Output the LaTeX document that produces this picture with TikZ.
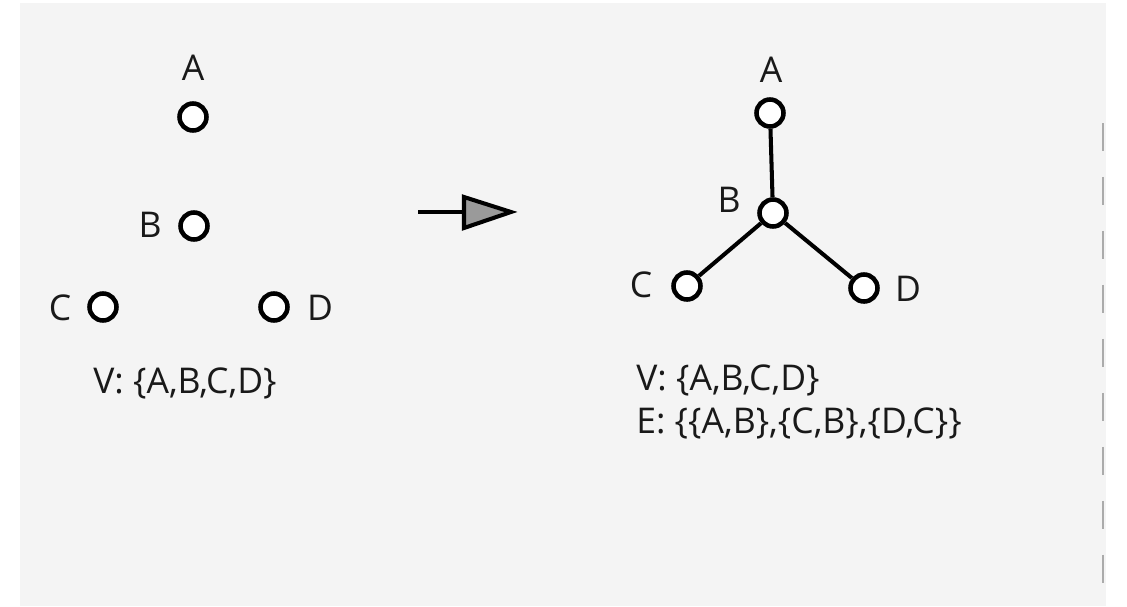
\documentclass[tikz,border=0pt]{standalone}
\usepackage{fontspec}
\setmainfont{Open Sans}
\definecolor{panelgray}{HTML}{F4F4F4}
\definecolor{rulegray}{HTML}{ABABAB}
\definecolor{headgray}{HTML}{9A9A9A}
\tikzset{
  vertex/.style={circle, draw, line width=2.6pt, fill=white, minimum size=0.54cm, inner sep=0pt},
  edge/.style={line width=2.3pt},
  letter/.style={font=\fontsize{20.2pt}{25pt}\selectfont, text=black!90, inner sep=0pt, text height=14.4pt, text depth=0pt},
  setline/.style={font=\fontsize{20.2pt}{25pt}\selectfont, text=black!90, inner sep=0pt, anchor=base west},
}
\begin{document}
\begin{tikzpicture}[x=0.02cm, y=-0.02cm]
\useasboundingbox (0,0) rectangle (1127,606);
%\draw[step=50,gray,very thin] (0,0) grid (1127,606);
\fill[panelgray] (20,3) rectangle (1106,606);
\draw[rulegray, line width=1.4pt, dash pattern=on 0.56cm off 0.52cm] (1103,123) -- (1103,590);
% left: vertices only
\node[vertex] (lA) at (193,117) {};
\node[vertex] (lB) at (194,226) {};
\node[vertex] (lC) at (103,307) {};
\node[vertex] (lD) at (274,307) {};
\node[letter] (lAt) at (193,68) {A};
\node[letter] (lBt) at (150,225) {B};
\node[letter] (lCt) at (60,308) {C};
\node[letter] (lDt) at (320,308) {D};
\node[setline] (lV) at (93,393) {V: \{A,B,C,D\}};
% arrow
\coordinate (arrtail) at (418,212);
\coordinate (arrbase) at (464,212);
\draw[line width=2.3pt] (arrtail) -- (arrbase);
\draw[line width=2.3pt, fill=headgray, line join=miter] (464,197) -- (511,212) -- (464,228) -- cycle;
% right: vertices and edges
\node[vertex] (rA) at (770,113) {};
\node[vertex] (rB) at (773,213) {};
\node[vertex] (rC) at (687,286) {};
\node[vertex] (rD) at (864,288) {};
\draw[edge] (rA) -- (rB);
\draw[edge] (rB) -- (rC);
\draw[edge] (rB) -- (rD);
\node[letter] (rAt) at (771,70) {A};
\node[letter] (rBt) at (729,200) {B};
\node[letter] (rCt) at (641,285) {C};
\node[letter] (rDt) at (908,289) {D};
\node[setline] (rV) at (636,390) {V: \{A,B,C,D\}};
\node[setline] (rE) at (636,433) {E: \{\{A,B\},\{C,B\},\{D,C\}\}};
\end{tikzpicture}
\end{document}
